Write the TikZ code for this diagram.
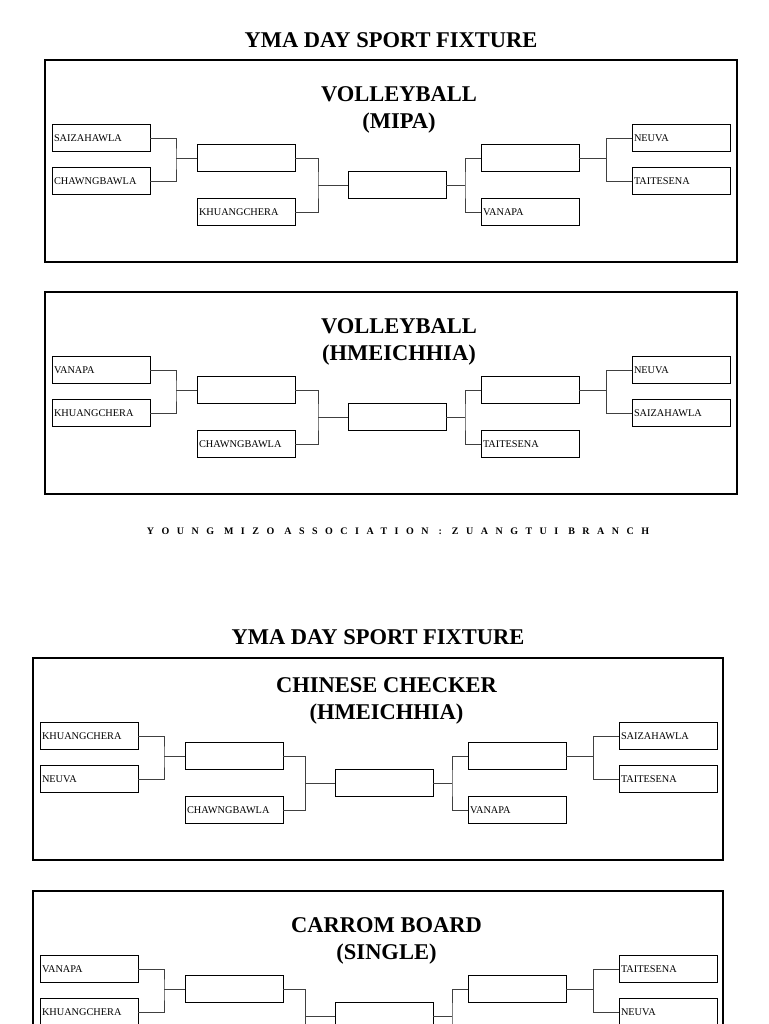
\documentclass[tikz,border=0pt]{standalone}
\usepackage{fontspec}
\setmainfont{Liberation Serif}
\begin{document}
\begin{tikzpicture}[x=1pt,y=-1pt,
  frame/.style={draw=black,line width=1.2pt},
  box/.style={draw=black,line width=0.7pt,minimum width=98pt,minimum height=27pt,inner sep=1.5pt},
  team/.style={box,text width=94pt,align=left,font=\fontsize{10.3}{11}\selectfont},
  conn/.style={draw=black!75,line width=0.7pt},
  ttl/.style={font=\bfseries\fontsize{22.5}{24}\selectfont}]
\useasboundingbox (0,0) rectangle (768,1024);
\clip (0,0) rectangle (768,1024);
\fill[white] (0,0) rectangle (768,1024);
\newcommand\bracketpanel[6]{% prefix, ox, oy, right x, rx shift, title dy
\begin{scope}[shift={(#2,#3)}]
\draw[frame] (45,60) rectangle (#4,262);
\node[ttl] (#1t1) at (399+#5/2,94+#6) {\TTa};
\node[ttl] (#1t2) at (399+#5/2,123+#6) {\TTb};
\node[team] (#1a) at (101,138) {\TA};
\node[team] (#1b) at (101,181) {\TB};
\node[box] (#1r) at (246,158) {};
\node[team] (#1k) at (246,212) {\TC};
\node[box] (#1c) at (397+#5,185) {};
\node[box] (#1rr) at (530+#5,158) {};
\node[team] (#1v) at (530+#5,212) {\TD};
\node[team] (#1n) at (681+#5,138) {\TE};
\node[team] (#1m) at (681+#5,181) {\TF};
\coordinate (#1j1) at (176,158);
\coordinate (#1j2) at (318+#5/2,185);
\coordinate (#1j3) at (465+#5,185);
\coordinate (#1j4) at (606+#5,158);
\draw[conn] (#1a.east) -| (#1j1) |- (#1b.east);
\draw[conn] (#1j1) -- (#1r.west);
\draw[conn] (#1r.east) -| (#1j2) |- (#1k.east);
\draw[conn] (#1j2) -- (#1c.west);
\draw[conn] (#1c.east) -- (#1j3);
\draw[conn] (#1rr.west) -| (#1j3) |- (#1v.west);
\draw[conn] (#1rr.east) -- (#1j4);
\draw[conn] (#1n.west) -| (#1j4) |- (#1m.west);
\end{scope}}
\node[ttl] (h1) at (391,40) {YMA DAY SPORT FIXTURE};
\def\TTa{VOLLEYBALL}\def\TTb{(MIPA)}
\def\TA{SAIZAHAWLA}\def\TB{CHAWNGBAWLA}\def\TC{KHUANGCHERA}\def\TD{VANAPA}\def\TE{NEUVA}\def\TF{TAITESENA}
\bracketpanel{p}{0}{0}{737}{0}{0}
\def\TTa{VOLLEYBALL}\def\TTb{(HMEICHHIA)}
\def\TA{VANAPA}\def\TB{KHUANGCHERA}\def\TC{CHAWNGBAWLA}\def\TD{TAITESENA}\def\TE{NEUVA}\def\TF{SAIZAHAWLA}
\bracketpanel{q}{0}{232}{737}{0}{0}
\node[font=\bfseries\fontsize{10}{11}\selectfont\addfontfeature{LetterSpace=75}] (sub) at (398,531) {YOUNG MIZO ASSOCIATION : ZUANGTUI BRANCH};
\node[ttl] (h2) at (378,637) {YMA DAY SPORT FIXTURE};
\def\TTa{CHINESE CHECKER}\def\TTb{(HMEICHHIA)}
\def\TA{KHUANGCHERA}\def\TB{NEUVA}\def\TC{CHAWNGBAWLA}\def\TD{VANAPA}\def\TE{SAIZAHAWLA}\def\TF{TAITESENA}
\bracketpanel{s}{-12}{598}{735}{-1}{-7}
\def\TTa{CARROM BOARD}\def\TTb{(SINGLE)}
\def\TA{VANAPA}\def\TB{KHUANGCHERA}\def\TC{}\def\TD{}\def\TE{TAITESENA}\def\TF{NEUVA}
\bracketpanel{u}{-12}{831}{735}{-1}{0}
\end{tikzpicture}
\end{document}
